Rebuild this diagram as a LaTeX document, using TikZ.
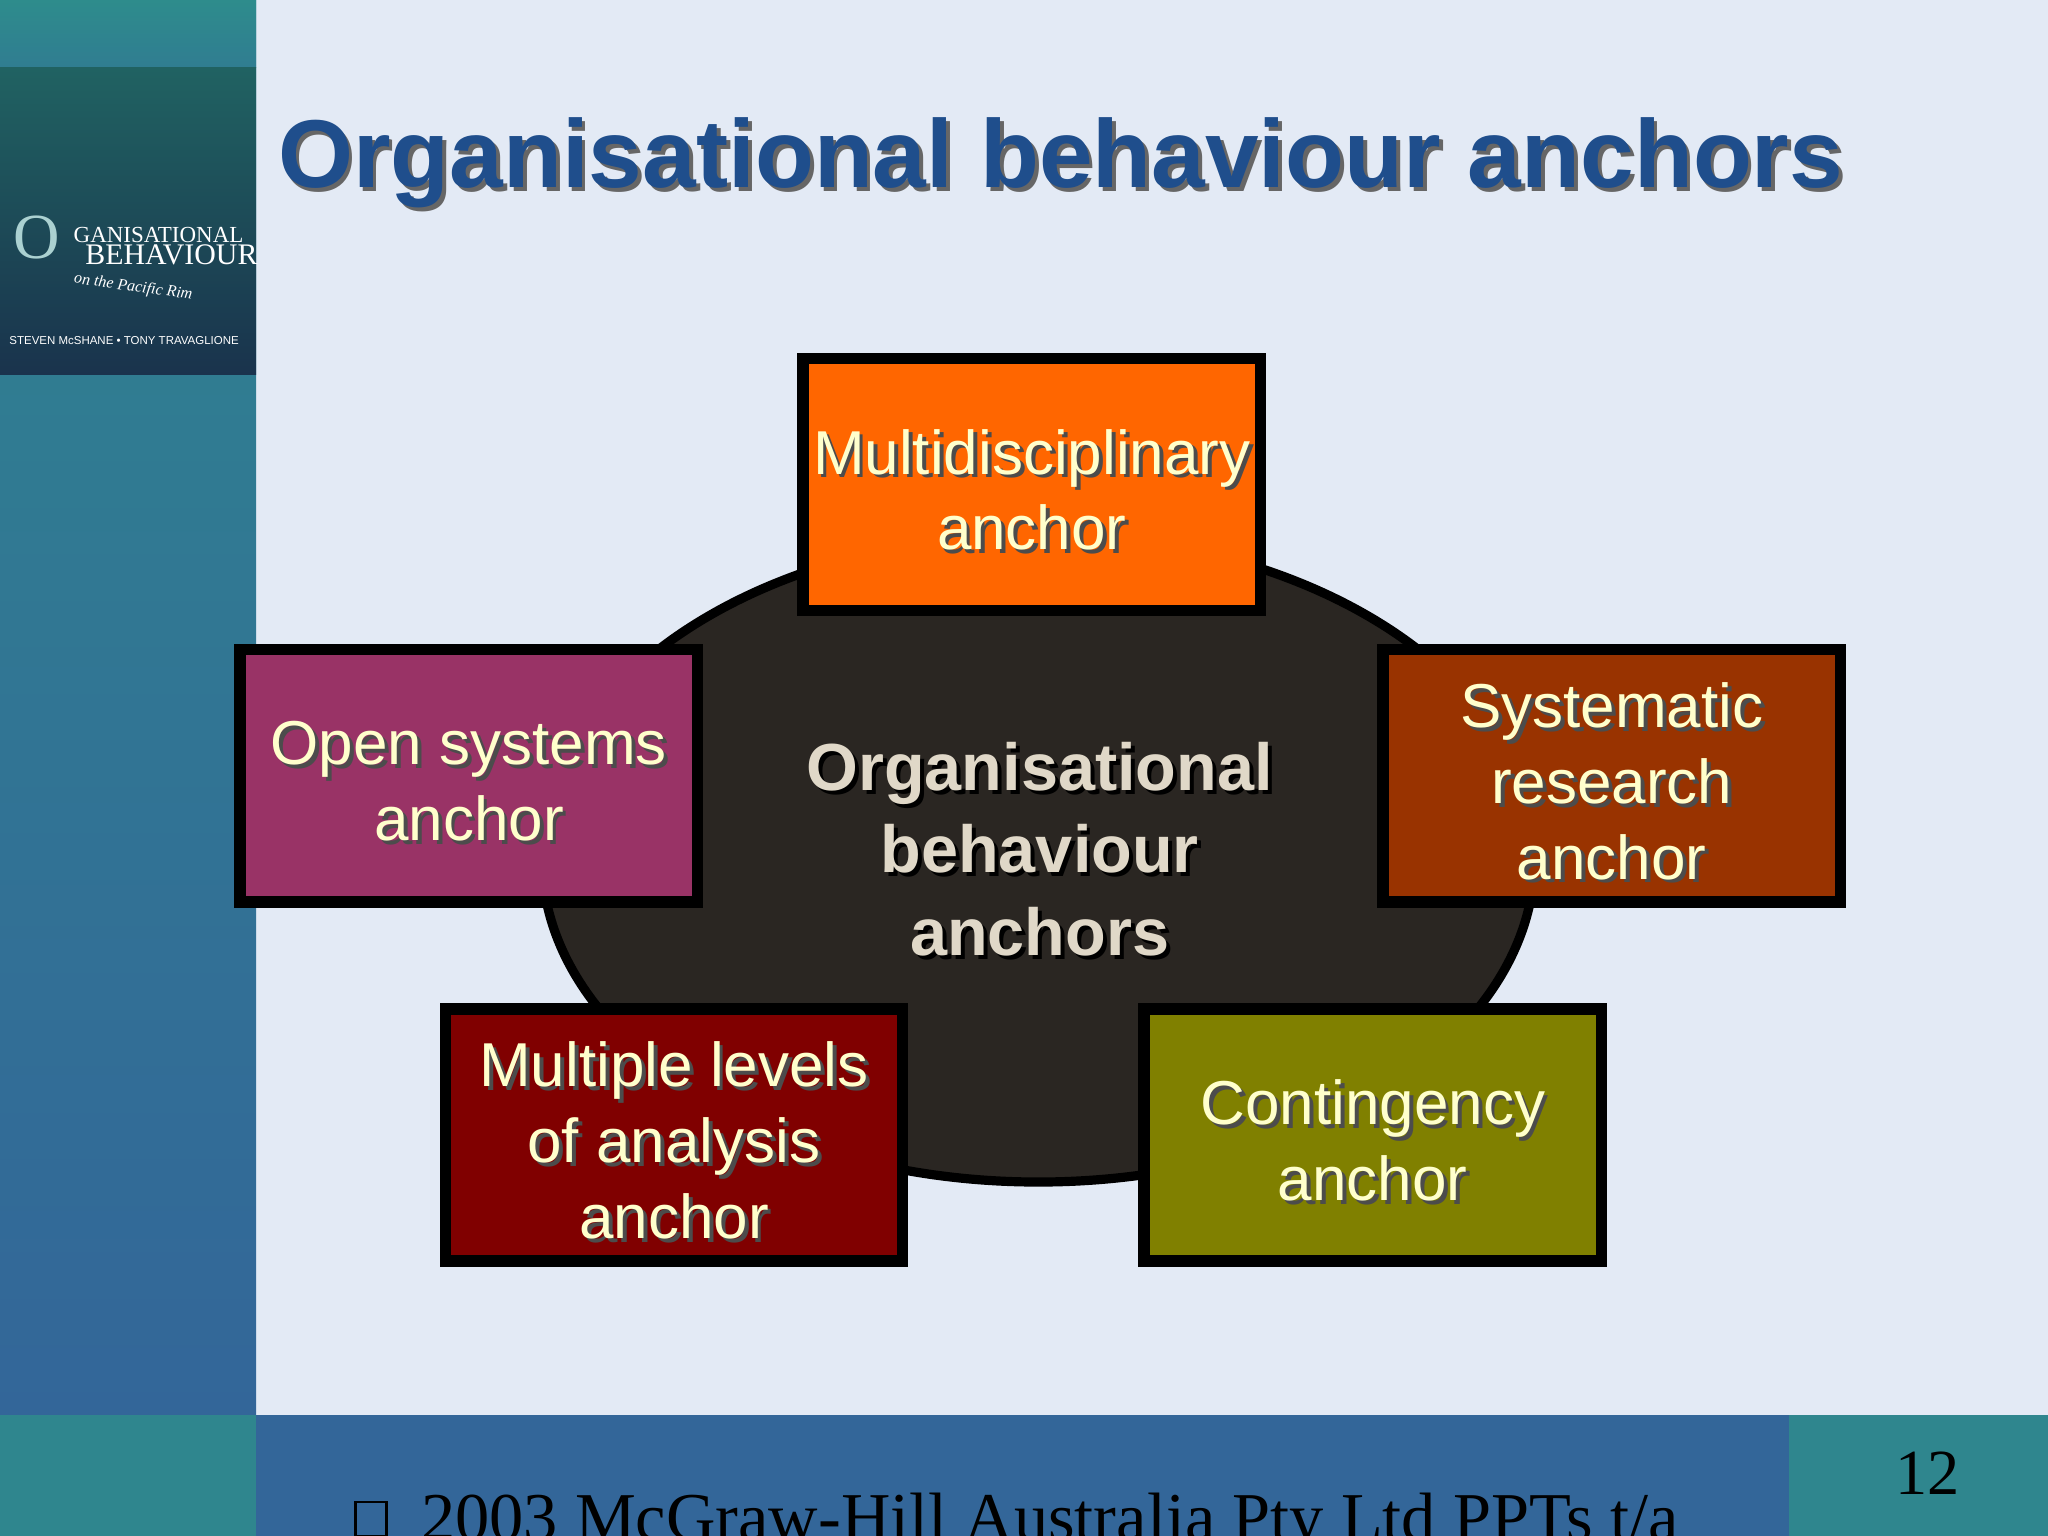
\documentclass[tikz,border=0pt]{standalone}
\usepackage{fontspec}
\setmainfont{Liberation Sans}
\newfontfamily\seriff{Liberation Serif}
\definecolor{bg}{HTML}{E3EAF5}
\definecolor{teal1}{HTML}{2E8C8C}
\definecolor{blue1}{HTML}{336699}
\definecolor{ttl}{HTML}{1F4E8C}
\definecolor{cream}{HTML}{FFFFCC}
\definecolor{ctrc}{HTML}{E0D8C8}
\definecolor{ell}{HTML}{2A2622}
\tikzset{
 anc/.style={draw=black,line width=2.5pt,minimum width=3.5cm,minimum height=1.93cm},
 ancf/.style={align=center,font=\fontsize{13.5}{16.5}\selectfont},
 shd/.style={ancf,text=black!70},
 ant/.style={ancf,text=cream}
}
\begin{document}
\begin{tikzpicture}[x=0.01cm,y=-0.01cm]
\useasboundingbox (0,0) rectangle (1568,1176);
\begin{scope}
\clip (0,0) rectangle (1568,1176);
\fill[bg] (0,0) rectangle (1568,1176);
\shade[top color=teal1!80!blue1,bottom color=blue1] (0,0) rectangle (196,1083);
\shade[top color=teal1,bottom color=teal1!60!blue1] (0,0) rectangle (196,52);
\shade[top color=teal1!70!black,bottom color=blue1!50!black] (0,52) rectangle (196,287);
\node[text=teal1!40!white,font=\seriff\fontsize{14}{14}\selectfont] (lo) at (28,182) {O};
\node[text=white,font=\seriff\fontsize{5}{6}\selectfont,anchor=west] (l1) at (44,180) {GANISATIONAL};
\node[text=white,font=\seriff\fontsize{6.5}{7}\selectfont,anchor=west] (l2) at (53,195) {BEHAVIOUR};
\node[text=white,font=\seriff\itshape\fontsize{3.5}{4}\selectfont,rotate=-8] (l3) at (102,220) {on the Pacific Rim};
\node[text=white,font=\fontsize{2.5}{3}\selectfont] (l4) at (95,261) {STEVEN McSHANE \textbullet\ TONY TRAVAGLIONE};
\fill[teal1!85!blue1] (0,1083) rectangle (196,1176);
\fill[blue1] (196,1083) rectangle (1370,1176);
\fill[teal1!85!blue1] (1370,1083) rectangle (1568,1176);
\node[font=\seriff\fontsize{14}{14}\selectfont] (pg) at (1476,1128) {12};
\draw[line width=0.6pt] (272,1150) rectangle (296,1176);
\node[font=\seriff\fontsize{14.9}{15}\selectfont,anchor=west] (cp) at (310,1167) {2003 McGraw-Hill Australia Pty Ltd PPTs t/a};
\end{scope}
\node[text=black!60,font=\bfseries\fontsize{21}{24}\selectfont] at (815,128) {Organisational behaviour anchors};
\node[text=ttl,font=\bfseries\fontsize{21}{24}\selectfont] (title) at (812,125) {Organisational behaviour anchors};
\fill[ell,draw=black,line width=2pt] (795,657) ellipse [x radius=380,y radius=248];
\node[text=black,align=center,font=\bfseries\fontsize{14.5}{18}\selectfont] at (799,653) {Organisational\\behaviour\\anchors};
\node[text=ctrc,align=center,font=\bfseries\fontsize{14.5}{18}\selectfont] (ctr) at (796,650) {Organisational\\behaviour\\anchors};
\node[anc,fill={rgb,255:red,255;green,102;blue,0}] (md) at (790,371) {};
\node[shd] at (793,378) {Multidisciplinary\\anchor};
\node[ant] at (790,375) {Multidisciplinary\\anchor};
\node[anc,fill={rgb,255:red,153;green,51;blue,102}] (os) at (359,594) {};
\node[shd] at (362,601) {Open systems\\anchor};
\node[ant] at (359,598) {Open systems\\anchor};
\node[anc,fill={rgb,255:red,153;green,51;blue,0}] (sr) at (1234,594) {};
\node[shd] at (1237,601) {Systematic\\research\\anchor};
\node[ant] at (1234,598) {Systematic\\research\\anchor};
\node[anc,fill={rgb,255:red,128;green,0;blue,0}] (ml) at (516,869) {};
\node[shd] at (519,876) {Multiple levels\\of analysis\\anchor};
\node[ant] at (516,873) {Multiple levels\\of analysis\\anchor};
\node[anc,fill={rgb,255:red,128;green,128;blue,0}] (ct) at (1051,869) {};
\node[shd] at (1054,876) {Contingency\\anchor};
\node[ant] at (1051,873) {Contingency\\anchor};
\end{tikzpicture}
\end{document}
